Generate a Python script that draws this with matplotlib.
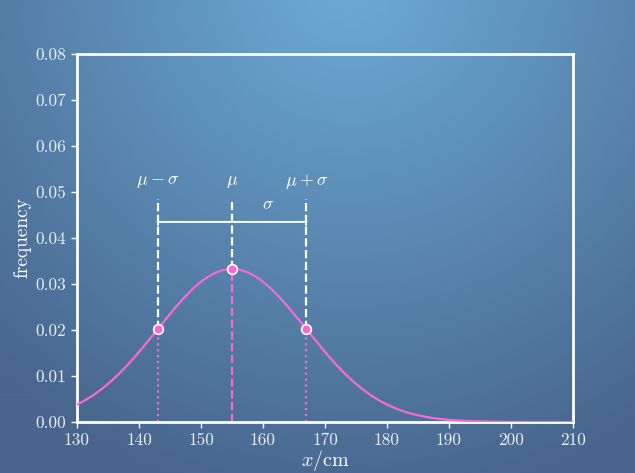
import numpy as np
import matplotlib
matplotlib.use("Agg")
import matplotlib.pyplot as plt

plt.rcParams['font.family'] = ['cmr10', 'DejaVu Serif']
plt.rcParams['mathtext.fontset'] = 'cm'
plt.rcParams['axes.formatter.use_mathtext'] = True

mu = 155.0
sigma = 12.0
x_range = [130, 210]
y_range = [0.0, 0.08]
x_ticks = [130, 140, 150, 160, 170, 180, 190, 200, 210]
y_ticks = [0.00, 0.01, 0.02, 0.03, 0.04, 0.05, 0.06, 0.07, 0.08]
marker_x = [mu - sigma, mu, mu + sigma]
marker_labels = [r'$\mu-\sigma$', r'$\mu$', r'$\mu+\sigma$']

def pdf(v):
    v = np.asarray(v, dtype=float)
    return np.exp(-0.5 * ((v - mu) / sigma) ** 2) / (sigma * np.sqrt(2 * np.pi))

W, H = 635, 473
fig = plt.figure(figsize=(W / 100, H / 100), dpi=100)

# radial gradient background
bg = fig.add_axes([0, 0, 1, 1], zorder=-10)
yy, xx = np.mgrid[0:H, 0:W]
cx, cy = 350, -20
d = np.sqrt((xx - cx) ** 2 + (yy - cy) ** 2) / 520.0
d = np.clip(d, 0, 1)
c0 = np.array([108, 172, 214]) / 255.0
c1 = np.array([72, 102, 142]) / 255.0
img = c0[None, None, :] * (1 - d[..., None]) + c1[None, None, :] * d[..., None]
bg.imshow(img, aspect='auto', extent=[0, 1, 0, 1], origin='upper')
bg.axis('off')

ax = fig.add_axes([77 / W, 1 - 422 / H, (573 - 77) / W, (422 - 54) / H])
ax.patch.set_alpha(0)

pink = '#f66ad6'
xs = np.linspace(x_range[0], x_range[1], 400)
ax.plot(xs, pdf(xs), color=pink, lw=1.6, zorder=3)

peaks = pdf(marker_x)
for xv, yv, style in zip(marker_x, peaks, [':', '--', ':']):
    ax.plot([xv, xv], [0, yv], color=pink, lw=1.6, ls=style, zorder=2)
    ax.plot([xv, xv], [yv, 0.0485], color='white', lw=1.6, ls='--', zorder=2)

ax.plot(marker_x, peaks, 'o', color=pink, mec='white', mew=1.2, ms=7, zorder=4)

ax.annotate('', xy=(marker_x[0], 0.0435), xytext=(marker_x[2], 0.0435),
            arrowprops=dict(arrowstyle='|-|,widthA=0.2,widthB=0.2', color='white', lw=1.4,
                            shrinkA=0, shrinkB=0))
ax.text(160.8, 0.0472, r'$\sigma$', color='white', fontsize=13, ha='center', va='center')
for xv, lab in zip(marker_x, marker_labels):
    ax.text(xv, 0.0522, lab, color='white', fontsize=13, ha='center', va='center')

ax.set_xlim(x_range)
ax.set_ylim(y_range)
ax.set_xticks(x_ticks)
ax.set_yticks(y_ticks)
ax.set_xticklabels([str(t) for t in x_ticks])
ax.set_yticklabels(['%.2f' % t for t in y_ticks])
for s in ax.spines.values():
    s.set_color('white')
    s.set_linewidth(2)
ax.tick_params(colors='white', labelcolor='#e8eef5', labelsize=12.5, direction='out', length=4, width=1)
ax.set_xlabel(r'$x/\mathrm{cm}$', color='white', fontsize=14.5, labelpad=0)
ax.set_ylabel('frequency', color='white', fontsize=14, labelpad=3)

fig.savefig('out.png', dpi=100)
